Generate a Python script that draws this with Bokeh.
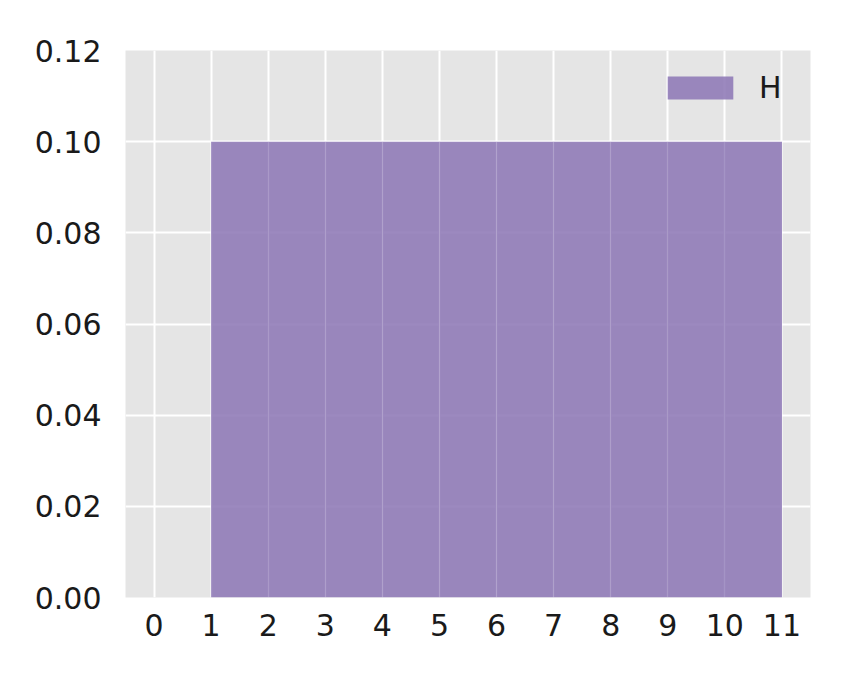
from bokeh.plotting import figure
from bokeh.models import FixedTicker, PrintfTickFormatter, Range1d, Legend, LegendItem
from bokeh.embed import file_html
from bokeh.resources import INLINE

bin_edges = [1, 2, 3, 4, 5, 6, 7, 8, 9, 10, 11]
density = [0.1, 0.1, 0.1, 0.1, 0.1, 0.1, 0.1, 0.1, 0.1, 0.1]
series_name = "H"
x_ticks = [0, 1, 2, 3, 4, 5, 6, 7, 8, 9, 10, 11]
y_ticks = [0.0, 0.02, 0.04, 0.06, 0.08, 0.10, 0.12]

p = figure(width=838, height=668, output_backend="svg", toolbar_location=None,
           x_range=Range1d(-0.5, 11.5), y_range=Range1d(0, 0.12),
           min_border_left=125, min_border_right=28, min_border_top=50, min_border_bottom=71)
p.background_fill_color = "#E5E5E5"
p.border_fill_color = "white"
p.outline_line_color = None

r = p.quad(left=bin_edges[:-1], right=bin_edges[1:], bottom=0, top=density,
           fill_color="#8D78B6", fill_alpha=0.87, line_color=None)

for ax in (p.xaxis[0], p.yaxis[0]):
    ax.axis_line_color = None
    ax.major_tick_line_color = None
    ax.minor_tick_line_color = None
    ax.major_label_text_font = "DejaVu Sans"
    ax.major_label_text_font_size = "30px"
    ax.major_label_text_color = "#1a1a1a"
p.xaxis.ticker = FixedTicker(ticks=x_ticks)
p.yaxis.ticker = FixedTicker(ticks=y_ticks)
p.yaxis.formatter = PrintfTickFormatter(format="%.2f")
p.xaxis.major_label_standoff = 10
p.yaxis.major_label_standoff = 18

p.grid.grid_line_color = "white"
p.grid.grid_line_width = 2
p.xgrid.ticker = FixedTicker(ticks=x_ticks)
p.ygrid.ticker = FixedTicker(ticks=y_ticks)

legend = Legend(items=[LegendItem(label=series_name, renderers=[r])], location="top_right")
legend.background_fill_alpha = 0
legend.border_line_color = None
legend.label_text_font = "DejaVu Sans"
legend.label_text_font_size = "30px"
legend.label_text_color = "#1a1a1a"
legend.label_text_baseline = "middle"
legend.label_height = 29
legend.label_width = 31
legend.glyph_width = 82
legend.glyph_height = 29
legend.label_standoff = 18
legend.margin = 20
legend.padding = 10
p.add_layout(legend)

open("out.html", "w").write(file_html(p, INLINE))
